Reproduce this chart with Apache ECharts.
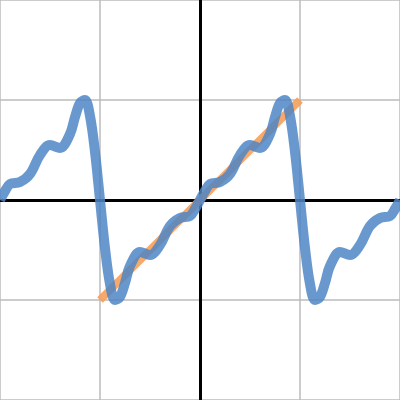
<!DOCTYPE html>
<html><head><meta charset="utf-8">
<script src="https://cdn.jsdelivr.net/npm/echarts@6/dist/echarts.min.js"></script>
<style>html,body{margin:0;padding:0;background:#fff}#c{width:400px;height:400px}</style>
</head><body><div id="c"></div>
<script>
const xs = [-2,-1.95,-1.9,-1.8,-1.7,-1.6,-1.5,-1.4,-1.3,-1.25,-1.2,-1.15,-1.1,-1.05,-1,-0.95,-0.9,-0.85,-0.8,-0.75,-0.7,-0.6,-0.5,-0.4,-0.3,-0.2,-0.1,-0.05,0,0.05,0.1,0.2,0.3,0.4,0.5,0.6,0.7,0.75,0.8,0.85,0.9,0.95,1,1.05,1.1,1.15,1.2,1.25,1.3,1.4,1.5,1.6,1.7,1.8,1.9,1.95,2];
const ys = [0,0.09,0.16,0.18,0.26,0.45,0.55,0.52,0.66,0.83,0.97,1.0,0.84,0.48,0,-0.48,-0.84,-1.0,-0.97,-0.83,-0.66,-0.52,-0.55,-0.45,-0.26,-0.18,-0.16,-0.09,0,0.09,0.16,0.18,0.26,0.45,0.55,0.52,0.66,0.83,0.97,1.0,0.84,0.48,0,-0.48,-0.84,-1.0,-0.97,-0.83,-0.66,-0.52,-0.55,-0.45,-0.26,-0.18,-0.16,-0.09,0];
const lineX = [-1, 1];
const lineY = [-1, 1];
const chart = echarts.init(document.getElementById('c'));
const ax = {type:'value',min:-2,max:2,interval:1,axisLabel:{show:false},axisTick:{show:false},
  axisLine:{onZero:true,lineStyle:{color:'#000',width:3}},
  splitLine:{lineStyle:{color:'#bbb',width:1.5}}};
chart.setOption({
  animation:false,
  grid:{left:0,right:0,top:0,bottom:0},
  xAxis:ax, yAxis:ax,
  series:[
    {type:'line',data:lineX.map((x,i)=>[x,lineY[i]]),symbol:'none',lineStyle:{color:'#f5a05a',width:8,opacity:0.9},z:3},
    {type:'line',data:xs.map((x,i)=>[x,ys[i]]),smooth:0.35,symbol:'none',lineStyle:{color:'#4f86c6',width:10,opacity:0.85},z:4}
  ]
});
</script></body></html>
